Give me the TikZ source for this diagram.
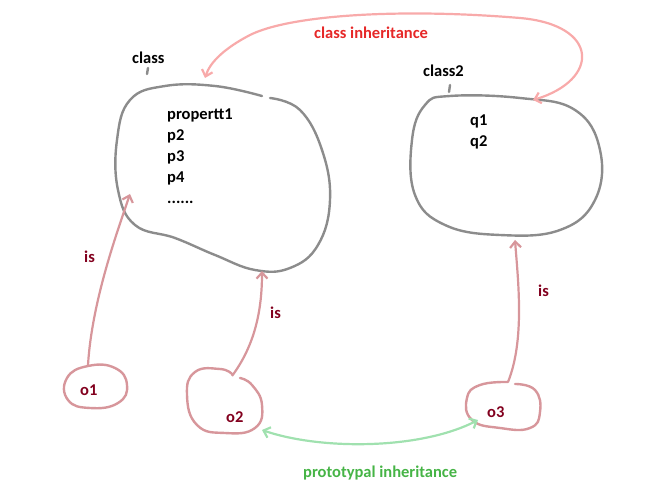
\documentclass[tikz,border=0pt]{standalone}
\usepackage{fontspec}
\setmainfont{Carlito}
\usetikzlibrary{arrows.meta}
\definecolor{blobc}{RGB}{140,140,140}
\definecolor{pinkc}{RGB}{215,150,155}
\definecolor{isc}{RGB}{130,0,30}
\definecolor{redl}{RGB}{248,170,170}
\definecolor{redt}{RGB}{230,40,40}
\definecolor{greenl}{RGB}{160,225,175}
\definecolor{greent}{RGB}{70,180,70}
\tikzset{
 blob/.style={draw=blobc,line width=2.4pt,line cap=round},
 oblob/.style={draw=pinkc,line width=2.4pt,line cap=round},
 isarrow/.style={draw=pinkc,line width=2.2pt,-{Straight Barb[length=6pt,width=11pt]}},
 lbl/.style={font=\bfseries\fontsize{16.5}{21}\selectfont,anchor=west,inner sep=0pt},
}
\begin{document}
\begin{tikzpicture}[x=1pt,y=-1pt]
\useasboundingbox (0,0) rectangle (651,502);
% class blob
\draw[blob] plot[smooth, tension=0.7] coordinates {(270,98) (300,110) (322,150) (330,200) (318,245) (290,268) (255,270) (215,255) (175,238) (135,225) (118,190) (117,140) (130,100) (165,86) (215,86) (262,96)};
\draw[blob] (148,68)--(147,74);
% class2 blob
\draw[blob] plot[smooth cycle, tension=0.7] coordinates {(450,96) (520,98) (575,110) (600,150) (595,200) (560,230) (500,235) (445,225) (415,195) (412,140) (425,105)};
\draw[blob] (450,85)--(449,92);
% objects
\draw[oblob] plot[smooth cycle, tension=0.8] coordinates {(88,366) (115,368) (127,385) (118,403) (90,408) (68,400) (67,378)};
\draw[oblob] plot[smooth, tension=0.8] coordinates {(232,374) (220,369) (195,372) (187,395) (197,425) (225,433) (255,428) (262,405) (252,385) (240,378)};
\draw[oblob] plot[smooth, tension=0.8] coordinates {(508,382) (480,385) (467,398) (472,420) (500,428) (530,428) (540,412) (535,390) (515,384)};
\node[lbl,text=isc] (o1) at (80,390) {o1};
\node[lbl,text=isc] (o2) at (226,417) {o2};
\node[lbl,text=isc] (o3) at (487,412) {o3};
\coordinate (o1t) at (88,365);
\coordinate (o2t) at (232,376);
\coordinate (o3t) at (508,382);
\coordinate (c1a) at (130,194);
\coordinate (c1b) at (262,271);
\coordinate (c2a) at (515,240);
\draw[isarrow] (o1t) .. controls (92,300) and (118,230) .. (c1a);
\draw[isarrow] (o2t) .. controls (255,345) and (262,310) .. (c1b);
\draw[isarrow] (o3t) .. controls (525,340) and (518,280) .. (c2a);
\node[lbl,text=isc] (is1) at (84,257) {is};
\node[lbl,text=isc] (is2) at (270,313) {is};
\node[lbl,text=isc] (is3) at (538,291) {is};
% texts
\node[lbl] (cl) at (132,58) {class};
\node[lbl] (cl2) at (423,71) {class2};
\node[lbl,anchor=north west,align=left] (props) at (167,109) {propertt1\\p2\\p3\\p4\\......};
\node[lbl,anchor=north west,align=left] (qs) at (470,115) {q1\\q2};
% class inheritance
\coordinate (ciS) at (533,100);
\coordinate (ciE) at (205,78);
\draw[draw=redl,line width=2.2pt,{Straight Barb[length=6pt,width=11pt]}-{Straight Barb[length=6pt,width=11pt]}] (ciS) .. controls (600,80) and (600,25) .. (520,18) .. controls (400,8) and (290,15) .. (250,35) .. controls (225,48) and (210,62) .. (ciE);
\node[lbl,text=redt] (cit) at (314,33) {class inheritance};
% prototypal
\coordinate (pS) at (262,430);
\coordinate (pE) at (478,420);
\draw[draw=greenl,line width=2.2pt,{Straight Barb[length=6pt,width=11pt]}-{Straight Barb[length=6pt,width=11pt]}] (pS) .. controls (320,450) and (420,450) .. (pE);
\node[lbl,text=greent] (pt) at (303,473) {prototypal inheritance};
\end{tikzpicture}
\end{document}
